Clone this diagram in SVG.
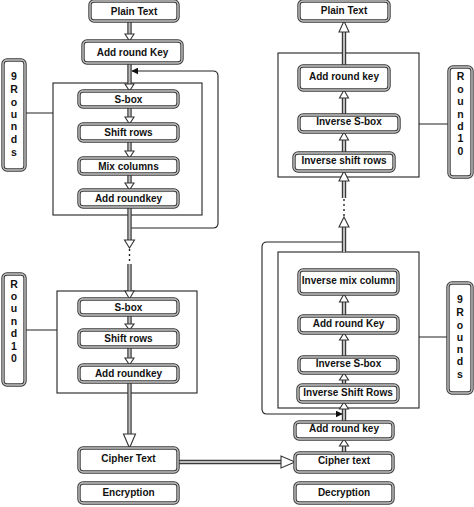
<svg xmlns="http://www.w3.org/2000/svg" width="474" height="507" viewBox="0 0 474 507">
<defs>
<marker id="fa" viewBox="0 0 10 10" refX="9" refY="5" markerWidth="7" markerHeight="7" orient="auto" markerUnits="userSpaceOnUse">
<path d="M0,0 L10,5 L0,10 Z" fill="#111"/>
</marker>
<style>
.bo{fill:#fff;stroke:#3a3a3a;stroke-width:3.4}
.bi{fill:none;stroke:#c4c4c4;stroke-width:1.4}
.fr{fill:none;stroke:#222;stroke-width:1.1}
.t{font-family:"Liberation Sans",Arial,sans-serif;font-weight:bold;font-size:10px;fill:#111;text-anchor:middle}
.lt{font-family:"Liberation Sans",Arial,sans-serif;font-weight:bold;font-size:10.5px;fill:#111;text-anchor:middle}
.sh{stroke:#3a3a3a;stroke-width:4.4;fill:none}
.si{stroke:#bdbdbd;stroke-width:2;fill:none}
.hd{fill:#fff;stroke:#333;stroke-width:1.1;stroke-linejoin:miter}
.ln{stroke:#222;stroke-width:1.1;fill:none}
.dt{stroke:#222;stroke-width:1.4;fill:none;stroke-dasharray:2 3}
</style>
</defs>
<rect width="474" height="507" fill="#fff"/>

<!-- frames -->
<g id="frame-enc-9rounds"><rect class="fr" x="53" y="83" width="149" height="132"/></g>
<g id="frame-enc-round10"><rect class="fr" x="57" y="291" width="140" height="102"/></g>
<g id="frame-dec-round10"><rect class="fr" x="278" y="53" width="141" height="124"/></g>
<g id="frame-dec-9rounds"><rect class="fr" x="278" y="252" width="141" height="156"/></g>

<!-- connectors -->
<g id="connectors">
<!-- label links -->
<path class="ln" d="M25,113 H53 M25,330 H57 M419,124 H449 M419,337 H448"/>
<!-- feedback loops -->
<path class="ln" d="M131,228 H213 Q218,228 218,223 V76 Q218,71 213,71 H132" marker-end="url(#fa)"/>
<path class="ln" d="M346,242 H267 Q262,242 262,247 V409 Q262,414 267,414 H342" marker-end="url(#fa)"/>
<!-- dotted continuations -->
<path class="dt" d="M129.5,249 V264 M344,216 V198"/>
<!-- shafts -->
<path class="sh" d="M129.5,21 V35 M129.5,63 V85 M129.5,107 V118 M129.5,141 V152 M129.5,174 V184 M129.5,207 V241 M129.5,264 V292 M129.5,315 V325 M129.5,347 V359 M129.5,382 V435 M178,462 H282 M344,453 V445 M344,422 V408 M344,385 V379 M344,357 V339 M344,316 V301 M344,252 V226 M344,198 V180 M344,153 V139 M344,115 V97 M344,66 V31"/>
<path class="si" d="M129.5,21 V35 M129.5,63 V85 M129.5,107 V118 M129.5,141 V152 M129.5,174 V184 M129.5,207 V241 M129.5,264 V292 M129.5,315 V325 M129.5,347 V359 M129.5,382 V435 M178,462 H282 M344,453 V445 M344,422 V408 M344,385 V379 M344,357 V339 M344,316 V301 M344,252 V226 M344,198 V180 M344,153 V139 M344,115 V97 M344,66 V31"/>
<!-- hollow heads -->
<polygon class="hd" points="125,34 134,34 129.5,41"/>
<polygon class="hd" points="125,84 134,84 129.5,91"/>
<polygon class="hd" points="125,117 134,117 129.5,124"/>
<polygon class="hd" points="125,151 134,151 129.5,158"/>
<polygon class="hd" points="125,183 134,183 129.5,190"/>
<polygon class="hd" points="124.5,240 134.5,240 129.5,248"/>
<polygon class="hd" points="125,291 134,291 129.5,299"/>
<polygon class="hd" points="125,324 134,324 129.5,330"/>
<polygon class="hd" points="125,358 134,358 129.5,365"/>
<polygon class="hd" points="123.5,434 135.5,434 129.5,448"/>
<polygon class="hd" points="281,456 281,468 295,462"/>
<polygon class="hd" points="339.5,446 348.5,446 344,439"/>
<polygon class="hd" points="339.5,409 348.5,409 344,402"/>
<polygon class="hd" points="339.5,380 348.5,380 344,373"/>
<polygon class="hd" points="339.5,340 348.5,340 344,333"/>
<polygon class="hd" points="339.5,302 348.5,302 344,294"/>
<polygon class="hd" points="339,227 349,227 344,217"/>
<polygon class="hd" points="339,181 349,181 344,171"/>
<polygon class="hd" points="339.5,140 348.5,140 344,132"/>
<polygon class="hd" points="339.5,98 348.5,98 344,90"/>
<polygon class="hd" points="339,32 349,32 344,21"/>
</g>

<!-- encryption nodes -->
<g id="enc-plain"><rect class="bo" x="90" y="1" width="88" height="20" rx="4"/><rect class="bi" x="90" y="1" width="88" height="20" rx="4"/><text class="t" x="134" y="14.5">Plain Text</text></g>
<g id="enc-addroundkey0"><rect class="bo" x="83" y="41" width="99" height="22" rx="4"/><rect class="bi" x="83" y="41" width="99" height="22" rx="4"/><text class="t" x="132.5" y="55.5">Add round Key</text></g>
<g id="enc-sbox"><rect class="bo" x="79" y="91" width="99" height="16" rx="4"/><rect class="bi" x="79" y="91" width="99" height="16" rx="4"/><text class="t" x="128.5" y="102.5">S-box</text></g>
<g id="enc-shiftrows"><rect class="bo" x="79" y="124" width="99" height="17" rx="4"/><rect class="bi" x="79" y="124" width="99" height="17" rx="4"/><text class="t" x="128.5" y="135.5">Shift rows</text></g>
<g id="enc-mixcolumns"><rect class="bo" x="79" y="158" width="99" height="16" rx="4"/><rect class="bi" x="79" y="158" width="99" height="16" rx="4"/><text class="t" x="128.5" y="169.5">Mix columns</text></g>
<g id="enc-addroundkey"><rect class="bo" x="79" y="190" width="99" height="17" rx="4"/><rect class="bi" x="79" y="190" width="99" height="17" rx="4"/><text class="t" x="128.5" y="201.5">Add roundkey</text></g>
<g id="enc-label-9rounds"><rect class="bo" x="3" y="60" width="22" height="110" rx="4"/><rect class="bi" x="3" y="60" width="22" height="110" rx="4"/>
<text class="lt" x="14"><tspan x="14" y="80">9</tspan><tspan x="14" y="92.5">R</tspan><tspan x="14" y="105.5">o</tspan><tspan x="14" y="117.5">u</tspan><tspan x="14" y="130">n</tspan><tspan x="14" y="142.5">d</tspan><tspan x="14" y="155.5">s</tspan></text></g>
<g id="enc-sbox10"><rect class="bo" x="79" y="299" width="99" height="16" rx="4"/><rect class="bi" x="79" y="299" width="99" height="16" rx="4"/><text class="t" x="128.5" y="310.5">S-box</text></g>
<g id="enc-shiftrows10"><rect class="bo" x="79" y="330" width="99" height="17" rx="4"/><rect class="bi" x="79" y="330" width="99" height="17" rx="4"/><text class="t" x="128.5" y="341.5">Shift rows</text></g>
<g id="enc-addroundkey10"><rect class="bo" x="79" y="365" width="99" height="17" rx="4"/><rect class="bi" x="79" y="365" width="99" height="17" rx="4"/><text class="t" x="128.5" y="376.5">Add roundkey</text></g>
<g id="enc-label-round10"><rect class="bo" x="3" y="274" width="22" height="111" rx="4"/><rect class="bi" x="3" y="274" width="22" height="111" rx="4"/>
<text class="lt" x="14"><tspan x="14" y="288">R</tspan><tspan x="14" y="300">o</tspan><tspan x="14" y="312">u</tspan><tspan x="14" y="324.5">n</tspan><tspan x="14" y="337">d</tspan><tspan x="14" y="349.5">1</tspan><tspan x="14" y="362">0</tspan></text></g>
<g id="enc-ciphertext"><rect class="bo" x="79" y="448" width="99" height="24" rx="4"/><rect class="bi" x="79" y="448" width="99" height="24" rx="4"/><text class="t" x="128.5" y="461.5">Cipher Text</text></g>
<g id="enc-title"><rect class="bo" x="79" y="483" width="99" height="20" rx="4"/><rect class="bi" x="79" y="483" width="99" height="20" rx="4"/><text class="t" x="128.5" y="495.5">Encryption</text></g>

<!-- decryption nodes -->
<g id="dec-plain"><rect class="bo" x="299" y="1" width="90" height="20" rx="4"/><rect class="bi" x="299" y="1" width="90" height="20" rx="4"/><text class="t" x="344" y="13.5">Plain Text</text></g>
<g id="dec-addroundkey10"><rect class="bo" x="299" y="66" width="90" height="24" rx="4"/><rect class="bi" x="299" y="66" width="90" height="24" rx="4"/><text class="t" x="344" y="79.5">Add round key</text></g>
<g id="dec-invsbox10"><rect class="bo" x="299" y="115" width="100" height="17" rx="4"/><rect class="bi" x="299" y="115" width="100" height="17" rx="4"/><text class="t" x="349" y="125">Inverse S-box</text></g>
<g id="dec-invshiftrows10"><rect class="bo" x="294" y="153" width="100" height="18" rx="4"/><rect class="bi" x="294" y="153" width="100" height="18" rx="4"/><text class="t" x="344" y="164">Inverse shift rows</text></g>
<g id="dec-label-round10"><rect class="bo" x="449" y="67" width="23" height="110" rx="4"/><rect class="bi" x="449" y="67" width="23" height="110" rx="4"/>
<text class="lt" x="460.5"><tspan x="460.5" y="80">R</tspan><tspan x="460.5" y="92.5">o</tspan><tspan x="460.5" y="105">u</tspan><tspan x="460.5" y="117.5">n</tspan><tspan x="460.5" y="129.5">d</tspan><tspan x="460.5" y="142">1</tspan><tspan x="460.5" y="155">0</tspan></text></g>
<g id="dec-invmixcolumn"><rect class="bo" x="299" y="270" width="99" height="24" rx="4"/><rect class="bi" x="299" y="270" width="99" height="24" rx="4"/><text class="t" x="348.5" y="283.5">Inverse mix column</text></g>
<g id="dec-addroundkey"><rect class="bo" x="299" y="316" width="99" height="17" rx="4"/><rect class="bi" x="299" y="316" width="99" height="17" rx="4"/><text class="t" x="348.5" y="326.5">Add round Key</text></g>
<g id="dec-invsbox"><rect class="bo" x="299" y="357" width="99" height="16" rx="4"/><rect class="bi" x="299" y="357" width="99" height="16" rx="4"/><text class="t" x="348.5" y="366.5">Inverse S-box</text></g>
<g id="dec-invshiftrows"><rect class="bo" x="298" y="385" width="100" height="17" rx="4"/><rect class="bi" x="298" y="385" width="100" height="17" rx="4"/><text class="t" x="348" y="395.5">Inverse Shift Rows</text></g>
<g id="dec-label-9rounds"><rect class="bo" x="448" y="283" width="24" height="110" rx="4"/><rect class="bi" x="448" y="283" width="24" height="110" rx="4"/>
<text class="lt" x="460"><tspan x="460" y="303">9</tspan><tspan x="460" y="316">R</tspan><tspan x="460" y="328.5">o</tspan><tspan x="460" y="340.5">u</tspan><tspan x="460" y="353">n</tspan><tspan x="460" y="365">d</tspan><tspan x="460" y="377.5">s</tspan></text></g>
<g id="dec-addroundkey0"><rect class="bo" x="295" y="422" width="98" height="17" rx="4"/><rect class="bi" x="295" y="422" width="98" height="17" rx="4"/><text class="t" x="344" y="431.5">Add round key</text></g>
<g id="dec-ciphertext"><rect class="bo" x="295" y="453" width="98" height="19" rx="4"/><rect class="bi" x="295" y="453" width="98" height="19" rx="4"/><text class="t" x="344" y="463.5">Cipher text</text></g>
<g id="dec-title"><rect class="bo" x="295" y="483" width="98" height="20" rx="4"/><rect class="bi" x="295" y="483" width="98" height="20" rx="4"/><text class="t" x="344" y="495.5">Decryption</text></g>
</svg>
